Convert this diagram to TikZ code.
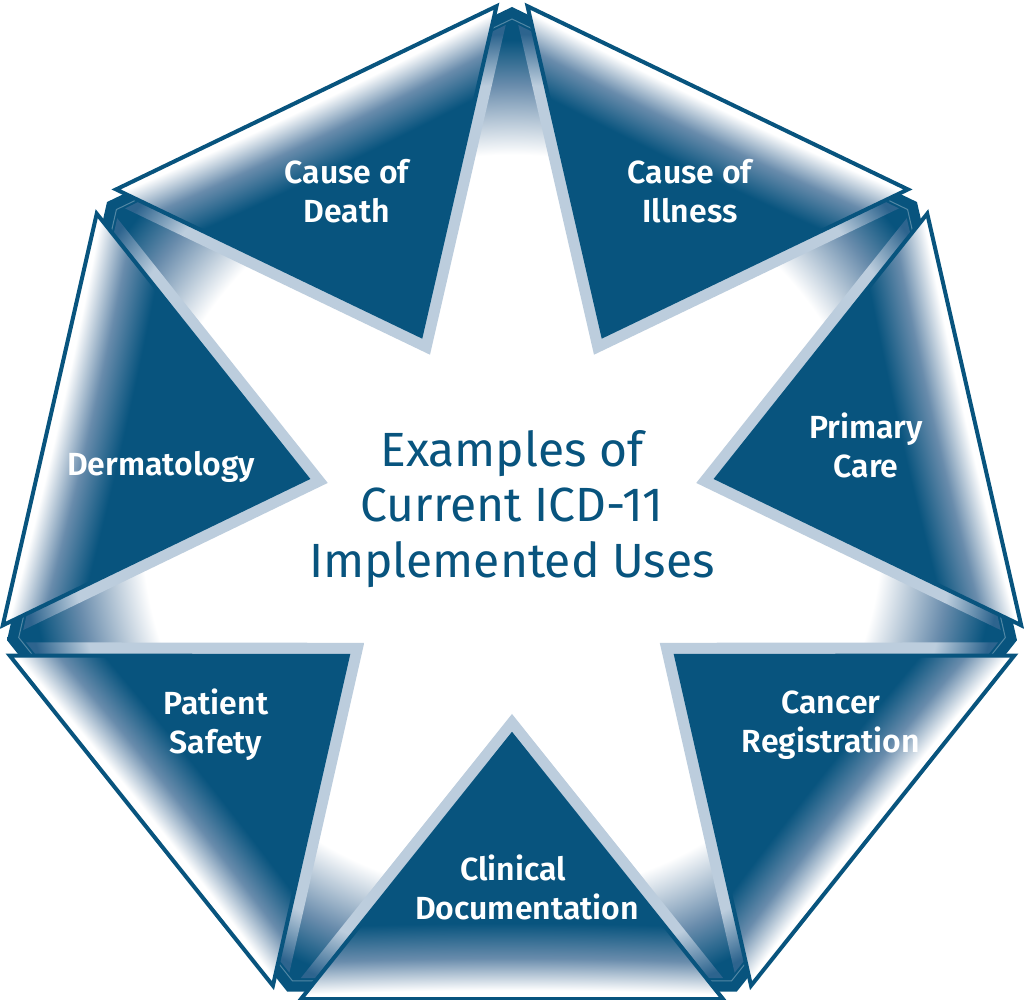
\documentclass[tikz,border=0pt]{standalone}
\usepackage{fontspec}
\setmainfont{Fira Sans}[BoldFont={Fira Sans SemiBold}]
\definecolor{dkblue}{RGB}{8,84,126}
\definecolor{ltblue}{RGB}{188,205,221}
\definecolor{midblue}{RGB}{105,140,172}
\definecolor{bandedge}{RGB}{45,100,142}
\pgfdeclareradialshading{bgshade}{\pgfpoint{0bp}{0bp}}{color(0bp)=(white); color(17.8bp)=(white); color(21.15bp)=(midblue); color(23.3bp)=(dkblue); color(50bp)=(dkblue)}
\pgfdeclareradialshading{trishade}{\pgfpoint{0bp}{0bp}}{color(0bp)=(white); color(23.185bp)=(white); color(23.333bp)=(midblue); color(23.495bp)=(dkblue); color(50bp)=(dkblue)}
\pgfdeclareradialshading{bandshade}{\pgfpoint{0bp}{0bp}}{color(0bp)=(ltblue); color(21.15bp)=(ltblue); color(23.6bp)=(bandedge); color(50bp)=(bandedge)}
\tikzset{
  lbl/.style={text=white, font=\bfseries\fontsize{16}{19.5}\selectfont, align=center},
  ttl/.style={text=dkblue, font=\fontsize{24}{27.75}\selectfont, align=center},
  triedge/.style={draw=dkblue, line width=2pt, line join=miter}
}
\begin{document}
\begin{tikzpicture}[x=0.5pt,y=0.5pt]
\useasboundingbox (-512,-475) rectangle (512,525);
% coordinates
\foreach \k in {0,...,6}{
  \pgfmathsetmacro\m{115.7143-\k*51.4286}
  \coordinate (a\k) at ({\m+24}:519);
  \coordinate (b\k) at ({\m-24}:519);
  \coordinate (i\k) at (\m:210);
  \coordinate (la\k) at ({\m+25.68}:526);
  \coordinate (lb\k) at ({\m-25.68}:526);
  \coordinate (li\k) at (\m:189);
  \coordinate (p\k) at (\m:5474.1);
}
% background heptagon
\begin{scope}
  \clip (90:518) \foreach \k in {1,...,6}{ -- ({90+\k*51.4286}:518)} -- cycle;
  \shade[shading=bgshade] (0,0) circle[radius=520];
\end{scope}
\draw[white, opacity=0.3, line width=0.5pt] (90:506) \foreach \k in {1,...,6}{ -- ({90+\k*51.4286}:506)} -- cycle;
% light bands
\begin{scope}
  \clip (90:503) \foreach \k in {1,...,6}{ -- ({90+\k*51.4286}:503)} -- cycle;
  \foreach \k in {0,...,6}{
    \begin{scope}
      \clip (la\k) -- (lb\k) -- (li\k) -- cycle;
      \shade[shading=bandshade] (0,0) circle[radius=520];
    \end{scope}
  }
\end{scope}
% dark triangles
\foreach \k in {0,...,6}{
  \begin{scope}
    \clip (a\k) -- (b\k) -- (i\k) -- cycle;
    \shade[shading=trishade] (p\k) circle[radius=5400];
  \end{scope}
  \path[triedge] (a\k) -- (b\k) -- (i\k) -- cycle;
}
% labels
\node[lbl] (death) at (-165,334) {Cause of\\Death};
\node[lbl] (illness) at (178,334) {Cause of\\Illness};
\node[lbl] (primary) at (354,80) {Primary\\Care};
\node[lbl] (derma) at (-351,58) {Dermatology};
\node[lbl] (patient) at (-296,-200) {Patient\\Safety};
\node[lbl] (cancer) at (319,-200) {Cancer\\Registration};
\node[lbl] (clinical) at (15,-362) {Clinical\hspace*{14pt}\\Documentation};
\node[ttl] (title) at (0,16) {Examples of\\Current ICD-11\\Implemented Uses};
\end{tikzpicture}
\end{document}
